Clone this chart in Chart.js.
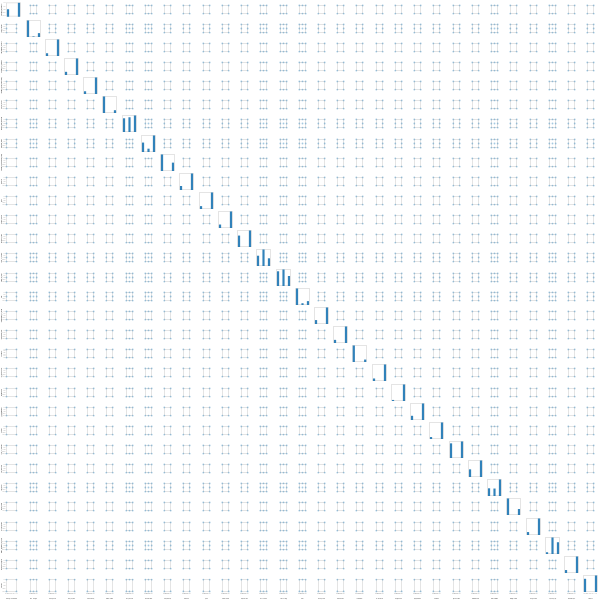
<!DOCTYPE html>
<html>
<head>
<meta charset="utf-8">
<script src="https://cdn.jsdelivr.net/npm/chart.js@4.4.1/dist/chart.umd.min.js"></script>
<style>
    html, body { margin: 0; padding: 0; background: #fff; }
    #grid { position: relative; width: 600px; height: 600px; overflow: hidden; }
    #grid canvas { position: absolute; }
</style>
</head>
<body>
<div id="grid"></div>
<script>
// Columnas del dataset (pairplot 31 x 31)
const variables = [
    'having_IP_Address', 'URL_Length', 'Shortining_Service', 'having_At_Symbol',
    'double_slash_redirecting', 'Prefix_Suffix', 'having_Sub_Domain', 'SSLfinal_State',
    'Domain_registeration_length', 'Favicon', 'port', 'HTTPS_token', 'Request_URL',
    'URL_of_Anchor', 'Links_in_tags', 'SFH', 'Submitting_to_email', 'Abnormal_URL',
    'Redirect', 'on_mouseover', 'RightClick', 'popUpWidnow', 'Iframe', 'age_of_domain',
    'DNSRecord', 'web_traffic', 'Page_Rank', 'Google_Index', 'Links_pointing_to_page',
    'Statistical_report', 'Result'
];

// Valores distintos de cada variable
const levels = [
    [-1, 1], [-1, 0, 1], [-1, 1], [-1, 1],
    [-1, 1], [-1, 1], [-1, 0, 1], [-1, 0, 1],
    [-1, 1], [-1, 1], [-1, 1], [-1, 1], [-1, 1],
    [-1, 0, 1], [-1, 0, 1], [-1, 0, 1], [-1, 1], [-1, 1],
    [0, 1], [-1, 1], [-1, 1], [-1, 1], [-1, 1], [-1, 1],
    [-1, 1], [-1, 0, 1], [-1, 1], [-1, 1], [-1, 0, 1],
    [-1, 1], [-1, 1]
];

// Frecuencias (histogramas de la diagonal)
const counts = [
    [3793, 7262], [8960, 135, 1960], [1444, 9611], [1655, 9400],
    [1429, 9626], [9590, 1465], [3363, 3622, 4070], [3557, 1167, 6331],
    [7389, 3666], [2053, 9002], [1502, 9553], [1796, 9259], [4495, 6560],
    [3282, 5337, 2436], [3956, 4449, 2650], [8440, 761, 1854], [2014, 9041], [1629, 9426],
    [9776, 1279], [1315, 9740], [476, 10579], [2137, 8918], [1012, 10043], [5189, 5866],
    [3443, 7612], [2655, 2569, 5831], [8201, 2854], [1539, 9516], [548, 6156, 4351],
    [1550, 9505], [4898, 6157]
];

// Marcas de los ejes
const ticksPlusMinus = [-1, -0.5, 0, 0.5, 1];
const ticksZeroOne = [0, 0.2, 0.4, 0.6, 0.8, 1];

const N = variables.length;
const grid = document.getElementById('grid');
const PX = 19.23, PY = 19.15, X0 = 6.3, Y0 = 0.5;
const AW = 15, AH = 17, LEFT_M = 6, BOTTOM_M = 8;

function fmt(v) {
    return (v < 0 ? '\u2212' : '') + Math.abs(v).toFixed(1);
}

function limits(k) {
    const lo = Math.min(...levels[k]), hi = Math.max(...levels[k]);
    const pad = (hi - lo) * 0.05;
    return [lo - pad, hi + pad];
}

function valueScale(k, axis, show) {
    const [mn, mx] = limits(k);
    const tickVals = levels[k][0] < 0 ? ticksPlusMinus : ticksZeroOne;
    return {
        type: 'linear',
        display: show,
        position: axis === 'x' ? 'bottom' : 'left',
        min: mn,
        max: mx,
        grid: { display: false, drawTicks: false },
        border: { display: false },
        ticks: {
            display: show,
            autoSkip: false,
            maxRotation: 0,
            padding: 0.6,
            color: '#555',
            font: { family: 'DejaVu Sans', size: 1.2 },
            callback: v => fmt(v)
        },
        title: {
            display: show,
            text: variables[k],
            color: '#333',
            padding: 0.8,
            font: { family: 'DejaVu Sans', size: 1.3 }
        },
        afterBuildTicks: s => { s.ticks = tickVals.map(v => ({ value: v })); },
        afterFit: s => {
            if (!show) return;
            if (axis === 'x') s.height = BOTTOM_M; else s.width = LEFT_M;
        }
    };
}

// Marco gris de cada subgráfico
const boxPlugin = {
    id: 'box',
    beforeDatasetsDraw(chart) {
        const a = chart.chartArea, c = chart.ctx;
        c.save();
        c.strokeStyle = '#e4e4e4';
        c.lineWidth = 1;
        c.strokeRect(a.left + 0.5, a.top + 0.5, a.right - a.left - 1, a.bottom - a.top - 1);
        c.restore();
    }
};

function baseOptions(scales) {
    return {
        responsive: false,
        maintainAspectRatio: false,
        animation: false,
        devicePixelRatio: 1,
        events: [],
        layout: { padding: 0 },
        plugins: { legend: { display: false }, tooltip: { enabled: false } },
        scales: scales
    };
}

for (let i = 0; i < N; i++) {
    for (let j = 0; j < N; j++) {
        let left = Math.round(X0 + PX * j);
        let top = Math.round(Y0 + PY * i);
        let w = AW, h = AH;
        if (j === 0) { left -= LEFT_M; w += LEFT_M; }
        if (i === N - 1) { h += BOTTOM_M; }

        const canvas = document.createElement('canvas');
        canvas.width = w;
        canvas.height = h;
        canvas.style.width = w + 'px';
        canvas.style.height = h + 'px';
        canvas.style.left = left + 'px';
        canvas.style.top = top + 'px';
        grid.appendChild(canvas);

        let config;
        if (i === j) {
            const maxCount = Math.max(...counts[i]);
            const scales = {
                x: valueScale(j, 'x', i === N - 1),
                y: { type: 'linear', display: false, min: 0, max: maxCount * 1.05 }
            };
            if (j === 0) scales.yv = valueScale(i, 'y', true);
            config = {
                type: 'bar',
                data: {
                    datasets: [{
                        data: levels[i].map((v, t) => ({ x: v, y: counts[i][t] })),
                        backgroundColor: 'rgba(31, 119, 180, 0.92)',
                        borderWidth: 0,
                        barThickness: 1.5,
                        xAxisID: 'x',
                        yAxisID: 'y'
                    }]
                },
                options: baseOptions(scales),
                plugins: [boxPlugin]
            };
        } else {
            const pts = [];
            levels[j].forEach(xv => levels[i].forEach(yv => pts.push({ x: xv, y: yv })));
            config = {
                type: 'scatter',
                data: {
                    datasets: [{
                        data: pts,
                        pointRadius: 0.9,
                        borderWidth: 0,
                        backgroundColor: 'rgba(31, 119, 180, 0.4)',
                        clip: false
                    }]
                },
                options: baseOptions({
                    x: valueScale(j, 'x', i === N - 1),
                    y: valueScale(i, 'y', j === 0)
                }),
                plugins: [boxPlugin]
            };
        }
        new Chart(canvas, config);
    }
}
</script>
</body>
</html>
